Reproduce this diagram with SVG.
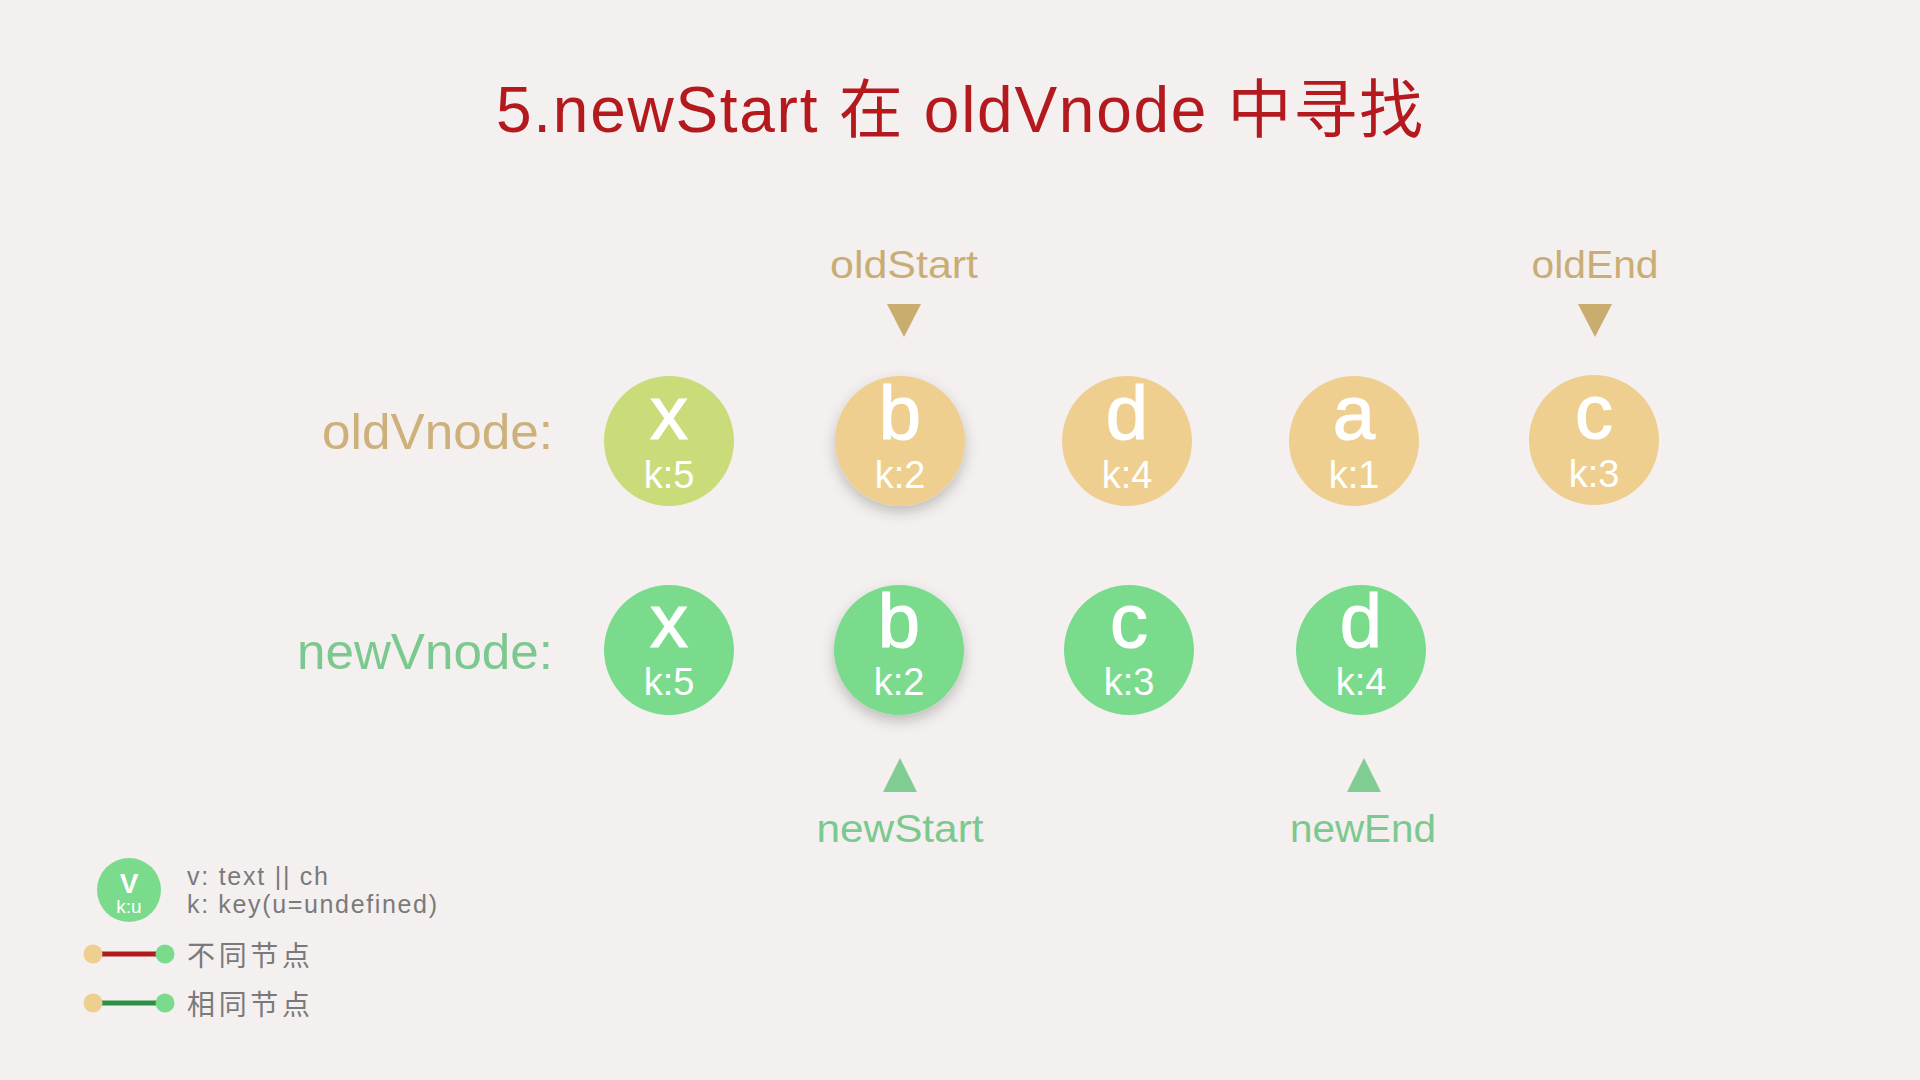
<svg xmlns="http://www.w3.org/2000/svg" width="1920" height="1080" viewBox="0 0 1920 1080">
  <defs>
    <filter id="shadow" x="-40%" y="-40%" width="180%" height="180%">
      <feDropShadow dx="0" dy="6" stdDeviation="7" flood-color="#000" flood-opacity="0.22"/>
    </filter>
    <style>
      text { font-family: "Liberation Sans", "Noto Sans CJK SC", sans-serif; }
      .title { font-size: 64px; fill: #b3191d; }
      .rowOld { font-size: 50px; fill: #cdb07a; text-anchor: end; }
      .rowNew { font-size: 50px; fill: #7bc98e; text-anchor: end; }
      .ptrOld { font-size: 38px; fill: #c9ad74; text-anchor: middle; }
      .ptrNew { font-size: 38px; fill: #7bc98e; text-anchor: middle; }
      .triOld { fill: #c9ad6e; }
      .triNew { fill: #80cc92; }
      .v { font-size: 76px; fill: #fff; text-anchor: middle; stroke: #fff; stroke-width: 1.2; }
      .k { font-size: 38px; fill: #fff; text-anchor: middle; }
      .cx { fill: #c9dc79; }
      .co { fill: #eecf90; }
      .cn { fill: #7adb8c; }
      .leg { font-size: 25px; fill: #7a7a7a; }
      .legcn { font-size: 28px; fill: #7a7a7a; }
    </style>
  </defs>
  <rect width="1920" height="1080" fill="#f4f0f0"/>

  <text class="title" x="496" y="132" textLength="927" lengthAdjust="spacing">5.newStart 在 oldVnode 中寻找</text>

  <text class="rowOld" x="553" y="449" textLength="231" lengthAdjust="spacingAndGlyphs">oldVnode:</text>
  <text class="rowNew" x="553" y="669" textLength="256" lengthAdjust="spacingAndGlyphs">newVnode:</text>

  <g id="ptr-oldStart">
    <text class="ptrOld" x="904" y="278" textLength="148" lengthAdjust="spacingAndGlyphs">oldStart</text>
    <polygon class="triOld" points="887,304 921,304 904,337"/>
  </g>
  <g id="ptr-oldEnd">
    <text class="ptrOld" x="1595" y="278" textLength="127" lengthAdjust="spacingAndGlyphs">oldEnd</text>
    <polygon class="triOld" points="1578,304 1612,304 1595,337"/>
  </g>
  <g id="ptr-newStart">
    <polygon class="triNew" points="900,758 917,792 883,792"/>
    <text class="ptrNew" x="900" y="842" textLength="167" lengthAdjust="spacingAndGlyphs">newStart</text>
  </g>
  <g id="ptr-newEnd">
    <polygon class="triNew" points="1364,758 1381,792 1347,792"/>
    <text class="ptrNew" x="1363" y="842" textLength="146" lengthAdjust="spacingAndGlyphs">newEnd</text>
  </g>

  <g id="old-x">
    <circle class="cx" cx="669" cy="441" r="65"/>
    <text class="v" x="669" y="439">x</text>
    <text class="k" x="669" y="488">k:5</text>
  </g>
  <g id="old-b">
    <circle class="co" cx="900" cy="441" r="65" filter="url(#shadow)"/>
    <text class="v" x="900" y="439">b</text>
    <text class="k" x="900" y="488">k:2</text>
  </g>
  <g id="old-d">
    <circle class="co" cx="1127" cy="441" r="65"/>
    <text class="v" x="1127" y="439">d</text>
    <text class="k" x="1127" y="488">k:4</text>
  </g>
  <g id="old-a">
    <circle class="co" cx="1354" cy="441" r="65"/>
    <text class="v" x="1354" y="439">a</text>
    <text class="k" x="1354" y="488">k:1</text>
  </g>
  <g id="old-c">
    <circle class="co" cx="1594" cy="440" r="65"/>
    <text class="v" x="1594" y="438">c</text>
    <text class="k" x="1594" y="487">k:3</text>
  </g>

  <g id="new-x">
    <circle class="cn" cx="669" cy="650" r="65"/>
    <text class="v" x="669" y="647">x</text>
    <text class="k" x="669" y="695">k:5</text>
  </g>
  <g id="new-b">
    <circle class="cn" cx="899" cy="650" r="65" filter="url(#shadow)"/>
    <text class="v" x="899" y="647">b</text>
    <text class="k" x="899" y="695">k:2</text>
  </g>
  <g id="new-c">
    <circle class="cn" cx="1129" cy="650" r="65"/>
    <text class="v" x="1129" y="647">c</text>
    <text class="k" x="1129" y="695">k:3</text>
  </g>
  <g id="new-d">
    <circle class="cn" cx="1361" cy="650" r="65"/>
    <text class="v" x="1361" y="647">d</text>
    <text class="k" x="1361" y="695">k:4</text>
  </g>

  <g id="legend">
    <circle class="cn" cx="129" cy="890" r="32"/>
    <text x="129" y="893" font-size="28" font-weight="bold" fill="#fff" text-anchor="middle">V</text>
    <text x="129" y="913" font-size="19" fill="#fff" text-anchor="middle">k:u</text>
    <text class="leg" x="187" y="885" textLength="141" lengthAdjust="spacing">v: text || ch</text>
    <text class="leg" x="187" y="913" textLength="250" lengthAdjust="spacing">k: key(u=undefined)</text>
  </g>
  <g id="connectors">
    <line x1="96" y1="954" x2="162" y2="954" stroke="#b01c1c" stroke-width="5"/>
    <circle class="co" cx="93" cy="954" r="9.5"/>
    <circle class="cn" cx="165" cy="954" r="9.5"/>
    <line x1="96" y1="1003" x2="162" y2="1003" stroke="#2f8f45" stroke-width="5"/>
    <circle class="co" cx="93" cy="1003" r="9.5"/>
    <circle class="cn" cx="165" cy="1003" r="9.5"/>
  </g>
  <text class="legcn" x="187" y="966" textLength="123" lengthAdjust="spacing">不同节点</text>
  <text class="legcn" x="187" y="1015" textLength="123" lengthAdjust="spacing">相同节点</text>
</svg>
